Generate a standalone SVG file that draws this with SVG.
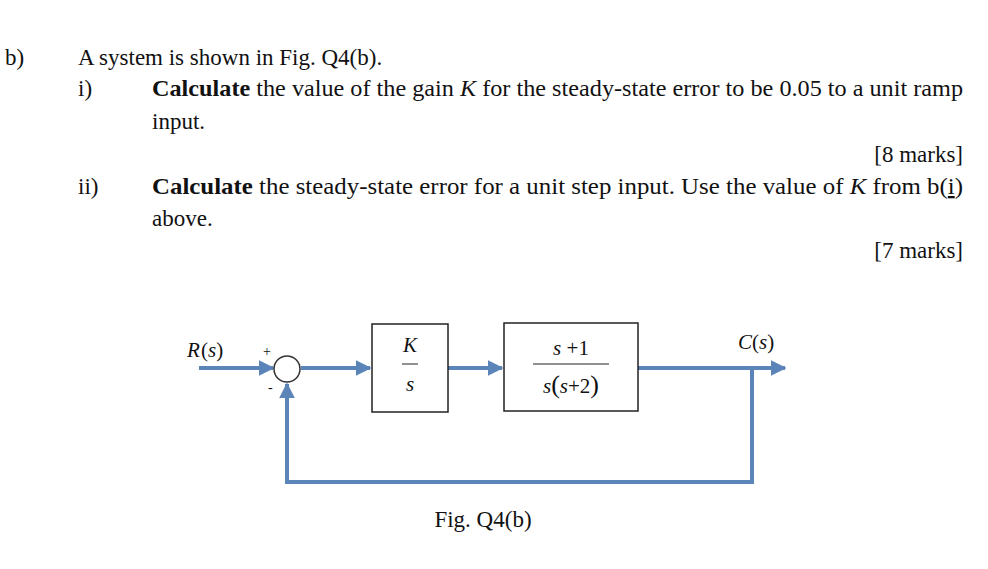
<svg xmlns="http://www.w3.org/2000/svg" width="988" height="569" viewBox="0 0 988 569">
<defs>
<style>
text{font-family:"Liberation Serif",serif;font-size:23px;fill:#111}
.b{font-weight:bold}
.m{font-style:italic;font-size:21px}
.ln{stroke:#5b84b8;stroke-width:4;fill:none}
.box{fill:#fff;stroke:#222;stroke-width:1.5}
</style>
<marker id="ar" viewBox="0 0 10 10" refX="9" refY="5" markerWidth="4" markerHeight="4" orient="auto" markerUnits="strokeWidth"><path d="M0,0L10,5L0,10z" fill="#5b84b8"/></marker>
</defs>
<text x="5" y="65">b)</text>
<text x="78" y="65">A system is shown in Fig. Q4(b).</text>
<text x="78" y="96">i)</text>
<text x="152" y="96" textLength="811" lengthAdjust="spacingAndGlyphs"><tspan class="b">Calculate</tspan> the value of the gain <tspan font-style="italic">K</tspan> for the steady-state error to be 0.05 to a unit ramp</text>
<text x="152" y="129">input.</text>
<text x="963" y="162" text-anchor="end">[8 marks]</text>
<text x="78" y="194">ii)</text>
<text x="152" y="194" textLength="811" lengthAdjust="spacingAndGlyphs"><tspan class="b">Calculate</tspan> the steady-state error for a unit step input. Use the value of <tspan font-style="italic">K</tspan> from b(<tspan text-decoration="underline">i</tspan>)</text>
<text x="152" y="226">above.</text>
<text x="963" y="258" text-anchor="end">[7 marks]</text>
<g id="connectors">
<line class="ln" x1="199" y1="368" x2="273" y2="368" marker-end="url(#ar)"/>
<line class="ln" x1="301" y1="368" x2="370" y2="368" marker-end="url(#ar)"/>
<line class="ln" x1="448" y1="368" x2="502" y2="368" marker-end="url(#ar)"/>
<line class="ln" x1="638" y1="368" x2="785" y2="368" marker-end="url(#ar)"/>
<polyline class="ln" points="752,368 752,482 287,482 287,384" marker-end="url(#ar)"/>
</g>
<g id="sum"><circle cx="287" cy="369" r="13" fill="#fff" stroke="#333" stroke-width="1.5"/>
<text x="263" y="356" style="font-size:14px">+</text><text x="268" y="392" style="font-size:14px">-</text></g>
<g id="Rs"><text class="m" x="187" y="357">R</text><text x="201" y="357" style="font-size:21px">(<tspan font-style="italic">s</tspan>)</text></g>
<g id="Cs"><text class="m" x="738" y="349">C</text><text x="752" y="349" style="font-size:21px">(<tspan font-style="italic">s</tspan>)</text></g>
<g id="G1"><rect class="box" x="372" y="324" width="76" height="88"/>
<text class="m" x="410" y="352" text-anchor="middle">K</text>
<line x1="402" y1="364" x2="418" y2="364" stroke="#222" stroke-width="1"/>
<text class="m" x="410" y="391" text-anchor="middle">s</text></g>
<g id="G2"><rect class="box" x="504" y="323" width="134" height="88"/>
<text class="m" x="571" y="355" text-anchor="middle" xml:space="preserve">s <tspan font-style="normal">+1</tspan></text>
<line x1="533" y1="364" x2="609" y2="364" stroke="#222" stroke-width="1"/>
<text class="m" x="571" y="393" text-anchor="middle">s<tspan font-style="normal" font-size="26">(</tspan>s<tspan font-style="normal">+2</tspan><tspan font-style="normal" font-size="26">)</tspan></text></g>
<text x="483" y="527" text-anchor="middle">Fig. Q4(b)</text>
</svg>
